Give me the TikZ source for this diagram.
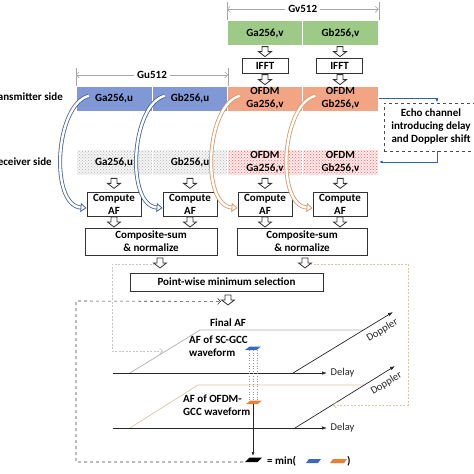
\documentclass[tikz,border=0pt]{standalone}
\usepackage{fontspec}
\setmainfont{Carlito}
\usetikzlibrary{arrows.meta,calc,patterns}
\definecolor{gvgreen}{RGB}{157,202,135}
\definecolor{gublue}{RGB}{128,153,214}
\definecolor{ofdmor}{RGB}{242,165,132}
\definecolor{curveblue}{RGB}{70,100,150}
\definecolor{curveor}{RGB}{222,150,100}
\definecolor{linkblue}{RGB}{50,100,170}
\definecolor{planegray}{RGB}{175,175,175}
\definecolor{planetan}{RGB}{215,200,165}
\definecolor{afblue}{RGB}{60,105,190}
\definecolor{aforange}{RGB}{237,125,49}
\tikzset{
  blk/.style={font=\bfseries\fontsize{11}{13}\selectfont, align=center, inner sep=0pt},
  colbox/.style={blk, draw=white, line width=0.4pt, minimum width=76pt, minimum height=25pt},
  rxbox/.style={blk, draw=white, minimum width=76pt, minimum height=26pt,
    preaction={fill=#1!8}, pattern=crosshatch dots, pattern color=#1!60},
  wbox/.style={blk, draw=black!80, line width=0.9pt, fill=white},
  bracket/.style={gray!70, line width=0.6pt, {Straight Barb[length=3pt]}-{Straight Barb[length=3pt]}},
  curvearr/.style={draw=#1, line width=0.8pt, double=white, double distance=2.4pt,
    -{Triangle[open,length=6pt,width=9pt]}},
  axis/.style={black!85, line width=0.7pt, -{Latex[length=5pt,width=3.5pt]}},
  lbl/.style={font=\fontsize{10.5}{12}\selectfont},
  hollowdown/.pic={\draw[black!80, line width=0.8pt, fill=white]
    (-3,-5) -- (3,-5) -- (3,0) -- (6.5,0) -- (0,5) -- (-6.5,0) -- (-3,0) -- cycle;}
}
\begin{document}
\begin{tikzpicture}[x=1pt,y=-1pt]
\useasboundingbox (0,0) rectangle (474,474);

% transmitter side
\node[colbox, fill=gvgreen] (gav) at (265,33) {Ga256,v};
\node[colbox, fill=gvgreen] (gbv) at (340.5,33) {Gb256,v};
\node[wbox, minimum width=46pt, minimum height=15pt] (ifa) at (265,65.5) {IFFT};
\node[wbox, minimum width=46pt, minimum height=15pt] (ifb) at (339.5,65.5) {IFFT};
\node[colbox, fill=gublue] (tgau) at (114,98.5) {Ga256,u};
\node[colbox, fill=gublue] (tgbu) at (190,98.5) {Gb256,u};
\node[colbox, fill=ofdmor] (tofa) at (265,98.5) {OFDM\\Ga256,v};
\node[colbox, fill=ofdmor] (tofb) at (340.5,98.5) {OFDM\\Gb256,v};
\node[blk, anchor=east] (txlbl) at (63,97) {Transmitter side};

\draw[bracket] ($(gav.north west)+(0,-11)$) -- node[fill=white, text=black, blk, inner sep=3pt]{Gv512} ($(gbv.north east)+(0,-11)$);
\draw[gray!70] (gav.north west) -- ++(0,-18) (gbv.north east) -- ++(0,-18);
\draw[bracket] ($(tgau.north west)+(0,-11)$) -- node[fill=white, text=black, blk, inner sep=3pt]{Gu512} ($(tgbu.north east)+(0,-11)$);
\draw[gray!70] (tgau.north west) -- ++(0,-18) (tgbu.north east) -- ++(0,-18);

\pic at ($(gav.south)!.5!(ifa.north)$) {hollowdown};
\pic at ($(gbv.south)!.5!(ifb.north)$) {hollowdown};
\pic at ($(ifa.south)!.5!(tofa.north)$) {hollowdown};
\pic at ($(ifb.south)!.5!(tofb.north)$) {hollowdown};

% echo channel
\node[blk, draw=black!70, dashed, line width=0.7pt, minimum width=94pt, minimum height=48pt] (echo) at (431,127)
  {Echo channel\\introducing delay\\and Doppler shift};

% receiver side
\node[rxbox=gray] (rgau) at (114,162) {Ga256,u};
\node[rxbox=gray] (rgbu) at (190,162) {Gb256,u};
\node[rxbox=red] (rofa) at (265,162) {OFDM\\Ga256,v};
\node[rxbox=red] (rofb) at (340.5,162) {OFDM\\Gb256,v};
\node[blk, anchor=east] (rxlbl) at (52,162) {Receiver side};

\draw[linkblue, line width=1pt, -{Latex[length=4pt]}] (tofb.east) -| ($(echo.north)+(6,0)$);
\draw[linkblue, line width=1pt, -{Latex[length=4pt]}] ($(echo.south)+(6,0)$) |- (rofb.east);

\node[wbox, minimum width=54pt, minimum height=24pt] (cafa) at (114,204) {Compute\\AF};
\node[wbox, minimum width=54pt, minimum height=24pt] (cafb) at (190,204) {Compute\\AF};
\node[wbox, minimum width=54pt, minimum height=24pt] (cafc) at (265,204) {Compute\\AF};
\node[wbox, minimum width=54pt, minimum height=24pt] (cafd) at (340,204) {Compute\\AF};
\foreach \r/\c in {rgau/cafa,rgbu/cafb,rofa/cafc,rofb/cafd}
  \pic at ($(\r.south)!.5!(\c.north)$) {hollowdown};

% curved hollow arrows, tx -> compute AF
\draw[curvearr=curveblue] ($(tgau.north west)+(13,10)$) .. controls +(-34,9) and +(-37,-3) .. ($(cafa.west)+(0,4)$);
\draw[curvearr=curveblue] ($(tgbu.north west)+(13,10)$) .. controls +(-34,9) and +(-37,-3) .. ($(cafb.west)+(0,4)$);
\draw[curvearr=curveor] ($(tofa.north west)+(13,10)$) .. controls +(-34,9) and +(-37,-3) .. ($(cafc.west)+(0,4)$);
\draw[curvearr=curveor] ($(tofb.north west)+(13,10)$) .. controls +(-34,9) and +(-37,-3) .. ($(cafd.west)+(0,4)$);

\node[wbox, minimum width=132pt, minimum height=27pt] (csa) at (151,241.5) {Composite-sum\\\& normalize};
\node[wbox, minimum width=130pt, minimum height=27pt] (csb) at (302,241.5) {Composite-sum\\\& normalize};
\foreach \c/\s in {cafa/csa,cafb/csa,cafc/csb,cafd/csb}
  \pic at ($(\c.south)!.5!(\c.south |- \s.north)$) {hollowdown};

\node[wbox, minimum width=193pt, minimum height=18pt] (pws) at (226.5,282) {Point-wise minimum selection};
\coordinate (sela) at ($(csa.south)+(9,7.5)$);
\coordinate (selb) at ($(csb.south)+(3,7.5)$);
\pic at (sela) {hollowdown};
\pic at (selb) {hollowdown};
\coordinate (finarr) at ($(pws.south)+(1.5,8.5)$);
\pic at (finarr) {hollowdown};
\node[blk] (final) at (228,323) {Final AF};

% AF planes
\draw[planegray, line width=0.7pt] (130,373) -- (200,330) -- (363,330);
\draw[planetan, line width=0.7pt] (130,428) -- (198,385) -- (365,385);
\coordinate (d1s) at (113,373); \coordinate (d1e) at (327,373);
\coordinate (p1o) at (293,373); \coordinate (p1e) at (393,312);
\coordinate (d2s) at (113,428); \coordinate (d2e) at (327,428);
\coordinate (p2o) at (295,428); \coordinate (p2e) at (395,366);
\draw[axis] (d1s) -- (d1e) node[lbl, right] {Delay};
\draw[axis] (p1o) -- node[lbl, sloped, below=2pt, pos=.84] {Doppler} (p1e);
\draw[axis] (d2s) -- (d2e) node[lbl, right] {Delay};
\draw[axis] (p2o) -- node[lbl, sloped, below=2pt, pos=.86] {Doppler} (p2e);
\node[blk, align=left, anchor=west] (afsc) at (189,346.5) {AF of SC-GCC\\waveform};
\node[blk, align=left, anchor=west] (afofdm) at (183,405.5) {AF of OFDM-\\GCC waveform};

% feedback dashed lines
\draw[gray!45, dash pattern=on 2pt off 1.5pt, line width=0.6pt, -{Straight Barb[length=3pt]}]
  ($(sela)+(-5,1.5)$) -| (112,351) -- (163,351);
\draw[planetan, dash pattern=on 2pt off 1.5pt, line width=0.6pt, -{Straight Barb[length=3pt]}]
  ($(selb)+(5,1.5)$) -| (408,405) -- (333,405);

% cells and min
\fill[afblue] (245,350) -- (249.5,346.5) -- (261,346.5) -- (256.5,350) -- cycle;
\fill[aforange] (246,404) -- (250.5,400.5) -- (262,400.5) -- (257.5,404) -- cycle;
\draw[afblue!70, dotted, line width=0.6pt] (249,350) -- (249,401) (253,350) -- (253,401) (257,350) -- (257,401);
\draw[black!85, line width=0.6pt, -{Latex[length=4pt,width=3pt]}] (253,404) -- (253,456);
\fill[black] (245,462) -- (249.5,457.5) -- (262,457.5) -- (257.5,462) -- cycle;
\coordinate (minaf) at (243,462);
\node[blk, anchor=west] (eqmin) at (267,461) {= min(};
\fill[afblue] (306,463) -- (309,459) -- (321,459) -- (318,463) -- cycle;
\fill[aforange] (330,463) -- (333,459) -- (347,459) -- (344,463) -- cycle;
\node[blk, anchor=west] (clmin) at (347,461) {)};
\draw[black!75, dashed, line width=0.6pt, -{Straight Barb[length=3pt]}]
  (minaf) -| (76,301) -- ($(finarr)+(-7,1.5)$);
\end{tikzpicture}
\end{document}
